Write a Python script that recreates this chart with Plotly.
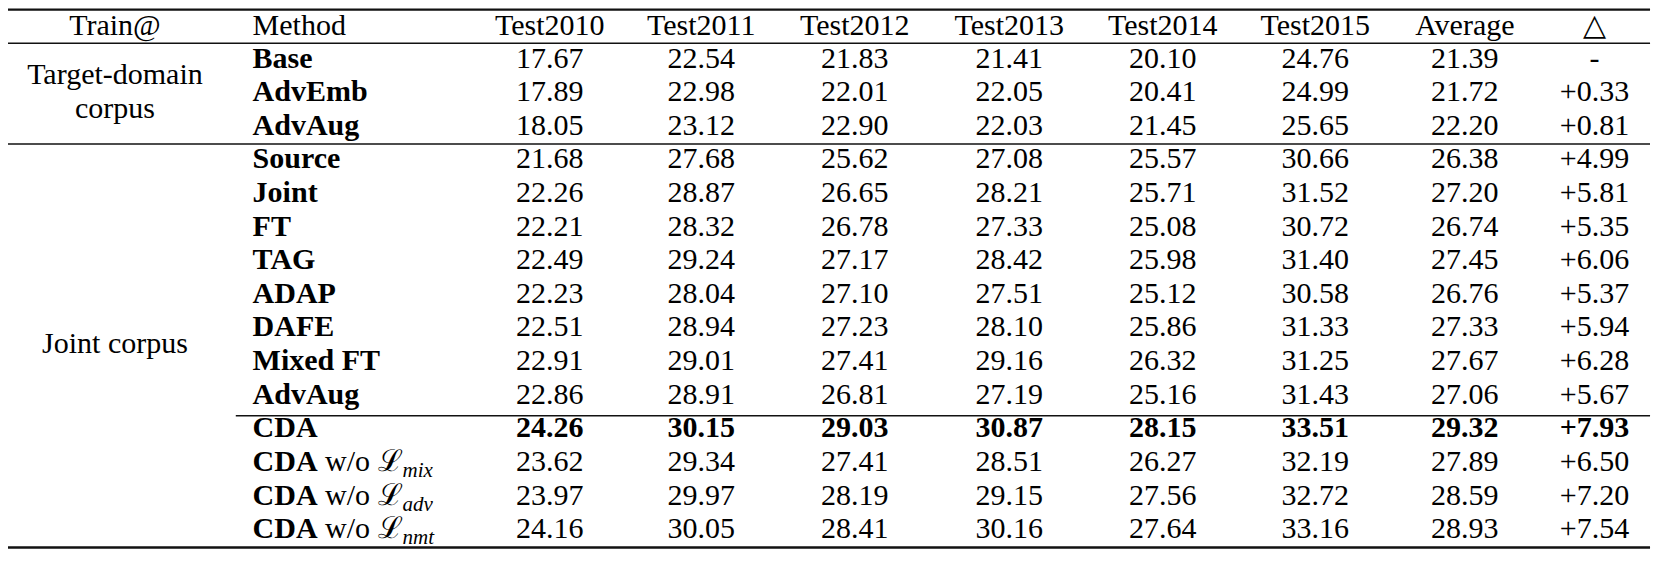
import plotly.graph_objects as go

# table contents
headers = ["Train@", "Method", "Test2010", "Test2011", "Test2012", "Test2013",
           "Test2014", "Test2015", "Average", "\u25b3"]

methods = [
    "<b>Base</b>", "<b>AdvEmb</b>", "<b>AdvAug</b>",
    "<b>Source</b>", "<b>Joint</b>", "<b>FT</b>", "<b>TAG</b>", "<b>ADAP</b>",
    "<b>DAFE</b>", "<b>Mixed FT</b>", "<b>AdvAug</b>",
    "<b>CDA</b>",
    "<b>CDA</b> w/o \u2112<sub><i>mix</i></sub>",
    "<b>CDA</b> w/o \u2112<sub><i>adv</i></sub>",
    "<b>CDA</b> w/o \u2112<sub><i>nmt</i></sub>",
]

test2010 = [17.67, 17.89, 18.05, 21.68, 22.26, 22.21, 22.49, 22.23, 22.51, 22.91, 22.86, 24.26, 23.62, 23.97, 24.16]
test2011 = [22.54, 22.98, 23.12, 27.68, 28.87, 28.32, 29.24, 28.04, 28.94, 29.01, 28.91, 30.15, 29.34, 29.97, 30.05]
test2012 = [21.83, 22.01, 22.90, 25.62, 26.65, 26.78, 27.17, 27.10, 27.23, 27.41, 26.81, 29.03, 27.41, 28.19, 28.41]
test2013 = [21.41, 22.05, 22.03, 27.08, 28.21, 27.33, 28.42, 27.51, 28.10, 29.16, 27.19, 30.87, 28.51, 29.15, 30.16]
test2014 = [20.10, 20.41, 21.45, 25.57, 25.71, 25.08, 25.98, 25.12, 25.86, 26.32, 25.16, 28.15, 26.27, 27.56, 27.64]
test2015 = [24.76, 24.99, 25.65, 30.66, 31.52, 30.72, 31.40, 30.58, 31.33, 31.25, 31.43, 33.51, 32.19, 32.72, 33.16]
average = [21.39, 21.72, 22.20, 26.38, 27.20, 26.74, 27.45, 26.76, 27.33, 27.67, 27.06, 29.32, 27.89, 28.59, 28.93]
delta = [None, 0.33, 0.81, 4.99, 5.81, 5.35, 6.06, 5.37, 5.94, 6.28, 5.67, 7.93, 6.50, 7.20, 7.54]

best_row = 11  # CDA row, shown in bold

# layout of the table (pixel x, row units y)
col_x = [108, 247, 547, 700, 855, 1011, 1166, 1320, 1471, 1602]
FONT = dict(family="Liberation Serif, Times New Roman, serif", size=30, color="black")
HEADER_Y = 0.02

fig = go.Figure()

n = len(methods)
rows = list(range(1, n + 1))


def text_trace(xs, ys, texts, pos="middle center"):
    return go.Scatter(x=xs, y=ys, mode="text", text=texts, textposition=pos,
                      textfont=FONT, hoverinfo="skip", cliponaxis=False)


# header (Method is left aligned like its column)
fig.add_trace(text_trace([col_x[0]] + col_x[2:], [HEADER_Y] * (len(headers) - 1),
                         [headers[0]] + headers[2:]))
fig.add_trace(text_trace([col_x[1]], [HEADER_Y], [headers[1]], "middle right"))

# group labels in first column
fig.add_trace(text_trace([col_x[0]] * 3, [1.5, 2.5, 9.5],
                         ["Target-domain", "corpus", "Joint corpus"]))

# method names (left aligned)
fig.add_trace(text_trace([col_x[1]] * n, rows, methods, "middle right"))


def fmt(v, i, signed=False):
    if v is None:
        s = "-"
    elif signed:
        s = f"+{v:.2f}"
    else:
        s = f"{v:.2f}"
    return f"<b>{s}</b>" if i == best_row else s


columns = [test2010, test2011, test2012, test2013, test2014, test2015, average]
for cx, vals in zip(col_x[2:9], columns):
    fig.add_trace(text_trace([cx] * n, rows, [fmt(v, i) for i, v in enumerate(vals)]))

fig.add_trace(text_trace([col_x[9]] * n, rows,
                         [fmt(v, i, signed=True) for i, v in enumerate(delta)]))

# booktabs style rules
rules = [(-0.5, 0, 2.4), (0.5, 0, 1.5), (3.5, 0, 1.5), (11.58, 230, 1.5), (15.5, 0, 2.4)]
for ry, x0, w in rules:
    fig.add_shape(type="line", xref="x", yref="y", x0=x0, x1=1658, y0=ry, y1=ry,
                  line=dict(color="#111", width=w))

fig.update_layout(
    margin=dict(l=0, r=0, t=0, b=0),
    paper_bgcolor="white",
    plot_bgcolor="white",
    showlegend=False,
    xaxis=dict(visible=False, range=[0, 1662], fixedrange=True),
    yaxis=dict(visible=False, range=[15.665, -0.549], fixedrange=True),
)

fig.write_html("out.html")
